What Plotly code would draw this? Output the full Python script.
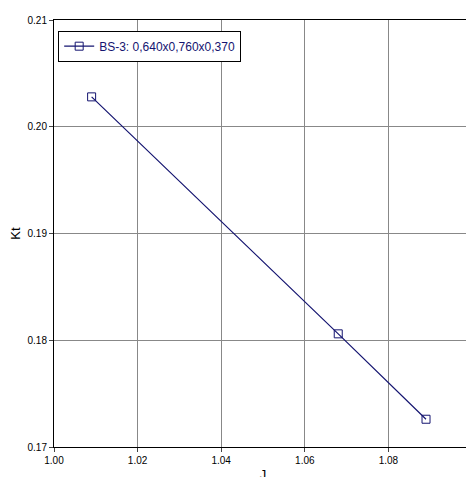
import plotly.graph_objects as go

J = [1.009, 1.068, 1.089]
Kt = [0.2028, 0.1806, 0.1726]
series_name = "BS-3: 0,640x0,760x0,370"

fig = go.Figure()
fig.add_trace(go.Scatter(
    x=J, y=Kt, mode="lines+markers", name=series_name,
    line=dict(color="#141470", width=1.2),
    marker=dict(symbol="square-open", size=8, color="#141470", line=dict(width=1)),
))

axis = dict(showline=True, linecolor="black", mirror=True, ticks="outside", ticklen=4,
            showgrid=True, gridcolor="#888888", gridwidth=1, zeroline=False,
            tickfont=dict(size=10, color="black"))
fig.update_xaxes(range=[1.0, 1.1], tickvals=[1.0, 1.02, 1.04, 1.06, 1.08, 1.1],
                 ticktext=["1.00", "1.02", "1.04", "1.06", "1.08", "1.10"],
                 title=dict(text="J", font=dict(size=13), standoff=4), **axis)
fig.update_yaxes(range=[0.17, 0.21], dtick=0.01, tickformat=".2f",
                 title=dict(text="Kt", font=dict(size=13), standoff=4), **axis)

fig.update_layout(
    width=474, height=477,
    margin=dict(l=44, r=10, t=6, b=38),
    plot_bgcolor="white", paper_bgcolor="white",
    font=dict(family="Liberation Sans, Arial", color="black"),
    showlegend=True,
    legend=dict(x=0.01, y=0.975, xanchor="left", yanchor="top",
                bgcolor="white", bordercolor="black", borderwidth=1,
                font=dict(size=12, color="#141470")),
)

fig.write_html("out.html")
